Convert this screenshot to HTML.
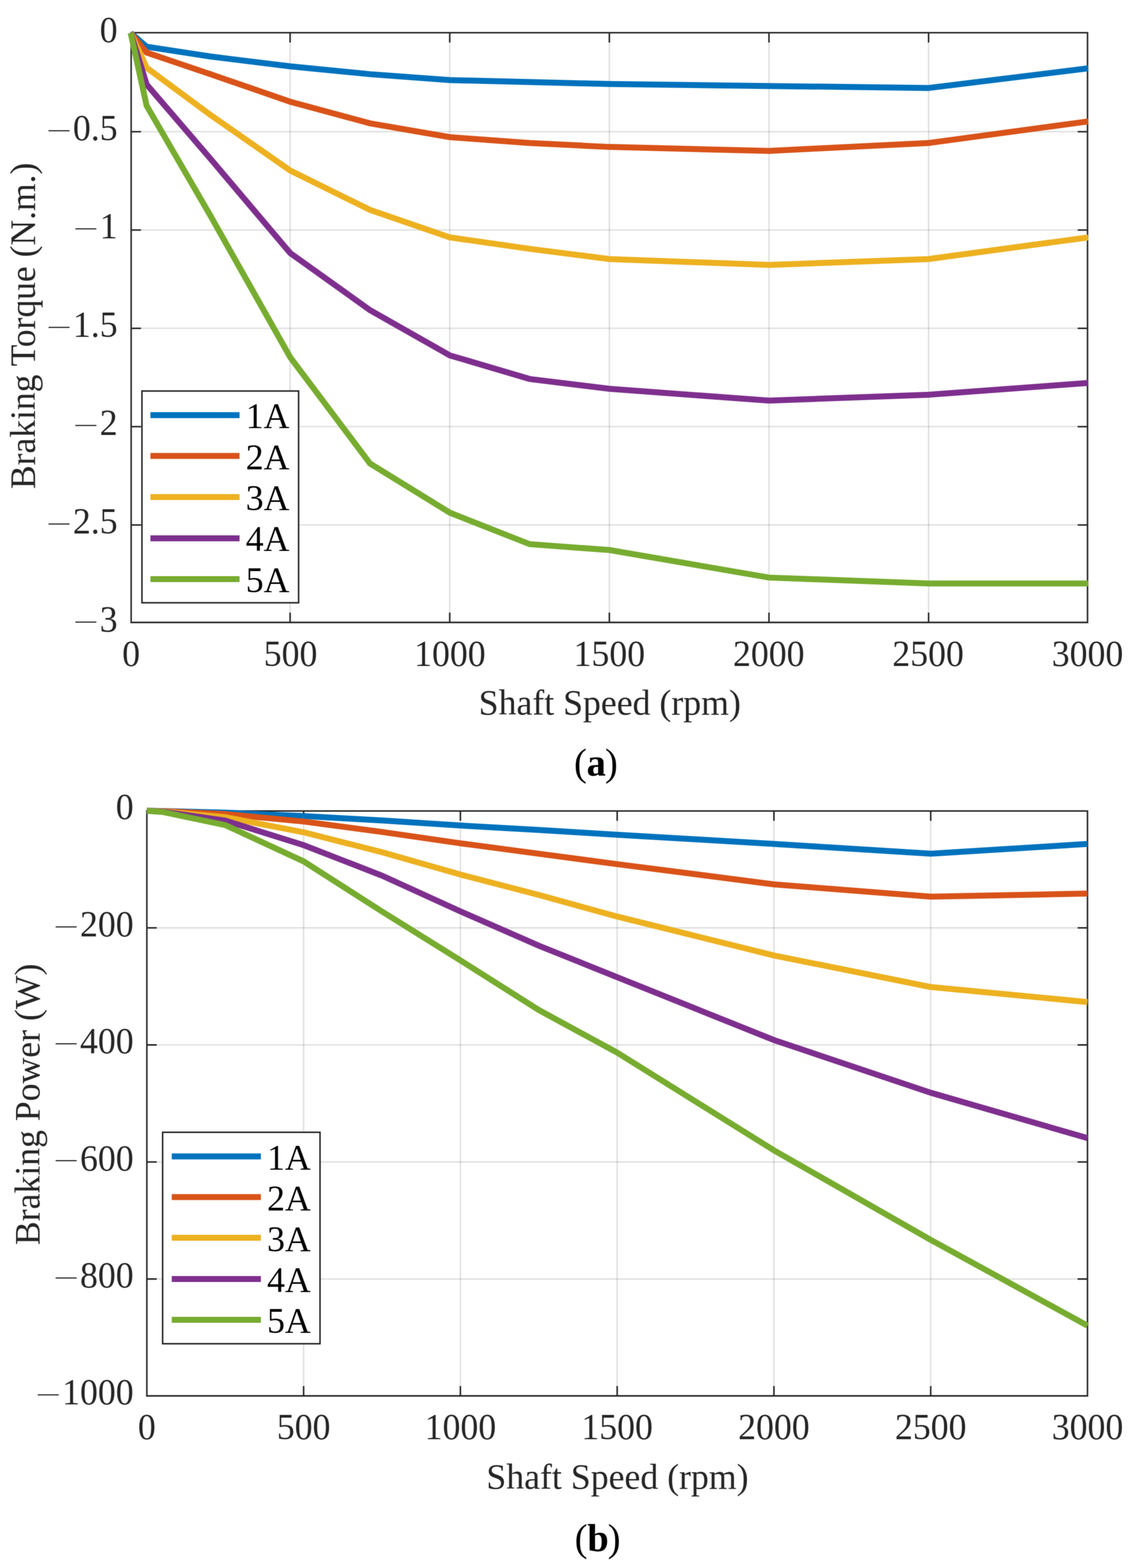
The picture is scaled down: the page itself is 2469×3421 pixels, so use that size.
<!DOCTYPE html>
<html lang="en">
<head>
<meta charset="utf-8">
<title>Braking torque and braking power versus shaft speed</title>
<style>
html,body{margin:0;padding:0;background:#fff}
body{width:2469px;height:3421px;overflow:hidden}
svg{display:block}
svg text{font-family:'Liberation Serif', serif;white-space:pre}
</style>
</head>
<body>
<svg width="2469" height="3421" viewBox="0 0 2469 3421">
<defs><filter id="soft" filterUnits="userSpaceOnUse" x="0" y="0" width="2469" height="3421" color-interpolation-filters="sRGB"><feConvolveMatrix order="3" kernelMatrix="0.04 0.12 0.04 0.12 0.36 0.12 0.04 0.12 0.04" edgeMode="duplicate" preserveAlpha="true"/></filter></defs>
<g id="fig" filter="url(#soft)">
<rect width="2469" height="3421" fill="#fff"/>
<g id="plot-a">
<path d="M632.75 71.3V1358M980.9 71.3V1358M1329.05 71.3V1358M1677.2 71.3V1358M2025.35 71.3V1358" stroke="#262626" stroke-opacity="0.15" stroke-width="3.1" fill="none"/>
<path d="M286.05 287.3H2372M286.05 501.8H2372M286.05 716.3H2372M286.05 930.8H2372M286.05 1145.3H2372" stroke="#262626" stroke-opacity="0.15" stroke-width="3.1" fill="none"/>
<path d="M286.05 71.3H2372V1358H286.05ZM632.75 1358v-21.5M632.75 71.3v21.5M980.9 1358v-21.5M980.9 71.3v21.5M1329.05 1358v-21.5M1329.05 71.3v21.5M1677.2 1358v-21.5M1677.2 71.3v21.5M2025.35 1358v-21.5M2025.35 71.3v21.5M286.05 287.3h21.5M2372 287.3h-21.5M286.05 501.8h21.5M2372 501.8h-21.5M286.05 716.3h21.5M2372 716.3h-21.5M286.05 930.8h21.5M2372 930.8h-21.5M286.05 1145.3h21.5M2372 1145.3h-21.5" stroke="#262626" stroke-width="3.3" fill="none" stroke-linejoin="miter"/>
<polyline points="285,71.8 319.81,101.83 459.04,123.28 633.08,144.73 807.12,161.89 981.17,174.76 1155.21,179.05 1329.25,183.34 1677.33,187.63 2025.42,191.92 2373.5,149.02" stroke="#0072BD" stroke-width="13.0" fill="none" stroke-linejoin="miter" stroke-miterlimit="10" stroke-linecap="butt"/>
<polyline points="285,71.8 319.81,114.7 459.04,161.89 633.08,221.95 807.12,269.14 981.17,299.17 1155.21,312.04 1329.25,320.62 1677.33,329.2 2025.42,312.04 2373.5,264.85" stroke="#D95319" stroke-width="13.0" fill="none" stroke-linejoin="miter" stroke-miterlimit="10" stroke-linecap="butt"/>
<polyline points="285,71.8 319.81,147.73 459.04,250.69 633.08,372.1 807.12,457.9 981.17,517.96 1155.21,542.84 1329.25,565.15 1677.33,578.02 2025.42,565.15 2373.5,517.96" stroke="#EDB120" stroke-width="13.0" fill="none" stroke-linejoin="miter" stroke-miterlimit="10" stroke-linecap="butt"/>
<polyline points="285,71.8 319.81,184.2 459.04,346.36 633.08,552.28 807.12,676.69 981.17,775.36 1155.21,826.84 1329.25,848.29 1677.33,874.03 2025.42,861.16 2373.5,835.42" stroke="#7E2F8E" stroke-width="13.0" fill="none" stroke-linejoin="miter" stroke-miterlimit="10" stroke-linecap="butt"/>
<polyline points="285,71.8 319.81,230.53 459.04,470.77 633.08,779.65 807.12,1011.31 981.17,1118.56 1155.21,1187.2 1329.25,1200.07 1677.33,1260.13 2025.42,1273 2373.5,1273" stroke="#77AC30" stroke-width="13.0" fill="none" stroke-linejoin="miter" stroke-miterlimit="10" stroke-linecap="butt"/>
<rect x="309.6" y="853.1" width="341.7" height="462" fill="#fff" stroke="#262626" stroke-width="3.3"/>
<line x1="328.1" x2="522.5" y1="905.8" y2="905.8" stroke="#0072BD" stroke-width="13.0"/>
<text x="536" y="933.1" font-size="78" fill="#000">1A</text>
<line x1="328.1" x2="522.5" y1="994.8" y2="994.8" stroke="#D95319" stroke-width="13.0"/>
<text x="536" y="1022.6" font-size="78" fill="#000">2A</text>
<line x1="328.1" x2="522.5" y1="1084.6" y2="1084.6" stroke="#EDB120" stroke-width="13.0"/>
<text x="536" y="1112" font-size="78" fill="#000">3A</text>
<line x1="328.1" x2="522.5" y1="1174.4" y2="1174.4" stroke="#7E2F8E" stroke-width="13.0"/>
<text x="536" y="1201" font-size="78" fill="#000">4A</text>
<line x1="328.1" x2="522.5" y1="1263.5" y2="1263.5" stroke="#77AC30" stroke-width="13.0"/>
<text x="536" y="1290.5" font-size="78" fill="#000">5A</text>
<text transform="translate(286 1452.7) scale(0.98 1)" font-size="79.6" text-anchor="middle" fill="#262626">0</text>
<text transform="translate(633.67 1452.7) scale(0.98 1)" font-size="79.6" text-anchor="middle" fill="#262626">500</text>
<text transform="translate(981.33 1452.7) scale(0.98 1)" font-size="79.6" text-anchor="middle" fill="#262626">1000</text>
<text transform="translate(1329 1452.7) scale(0.98 1)" font-size="79.6" text-anchor="middle" fill="#262626">1500</text>
<text transform="translate(1676.67 1452.7) scale(0.98 1)" font-size="79.6" text-anchor="middle" fill="#262626">2000</text>
<text transform="translate(2024.33 1452.7) scale(0.98 1)" font-size="79.6" text-anchor="middle" fill="#262626">2500</text>
<text transform="translate(2372 1452.7) scale(0.98 1)" font-size="79.6" text-anchor="middle" fill="#262626">3000</text>
<text transform="translate(256.5 91.8) scale(0.98 1)" font-size="79.6" text-anchor="end" fill="#262626">0</text>
<text transform="translate(256.5 305.6) scale(0.98 1)" font-size="79.6" text-anchor="end" fill="#262626"><tspan font-size="47" textLength="56.63" lengthAdjust="spacingAndGlyphs" dy="-5.1">−</tspan><tspan dx="2.3" dy="5.1">0.5</tspan></text>
<text transform="translate(256.5 520.1) scale(0.98 1)" font-size="79.6" text-anchor="end" fill="#262626"><tspan font-size="47" textLength="56.63" lengthAdjust="spacingAndGlyphs" dy="-5.1">−</tspan><tspan dx="2.3" dy="5.1">1</tspan></text>
<text transform="translate(256.5 734.6) scale(0.98 1)" font-size="79.6" text-anchor="end" fill="#262626"><tspan font-size="47" textLength="56.63" lengthAdjust="spacingAndGlyphs" dy="-5.1">−</tspan><tspan dx="2.3" dy="5.1">1.5</tspan></text>
<text transform="translate(256.5 949.1) scale(0.98 1)" font-size="79.6" text-anchor="end" fill="#262626"><tspan font-size="47" textLength="56.63" lengthAdjust="spacingAndGlyphs" dy="-5.1">−</tspan><tspan dx="2.3" dy="5.1">2</tspan></text>
<text transform="translate(256.5 1163.6) scale(0.98 1)" font-size="79.6" text-anchor="end" fill="#262626"><tspan font-size="47" textLength="56.63" lengthAdjust="spacingAndGlyphs" dy="-5.1">−</tspan><tspan dx="2.3" dy="5.1">2.5</tspan></text>
<text transform="translate(256.5 1378.1) scale(0.98 1)" font-size="79.6" text-anchor="end" fill="#262626"><tspan font-size="47" textLength="56.63" lengthAdjust="spacingAndGlyphs" dy="-5.1">−</tspan><tspan dx="2.3" dy="5.1">3</tspan></text>
<text x="1330" y="1558.5" font-size="78" text-anchor="middle" fill="#262626">Shaft Speed (rpm)</text>
<text transform="translate(75.7 711) rotate(-90)" font-size="78" text-anchor="middle" textLength="712" lengthAdjust="spacingAndGlyphs" fill="#262626">Braking Torque (N.m.)</text>
<text x="1299.7" y="1692.4" font-size="84" text-anchor="middle" fill="#000">(<tspan font-weight="bold" dx="-0.5">a</tspan><tspan dx="-2">)</tspan></text>
</g>
<g id="plot-b">
<path d="M662.23 1769.3V3045.5M1004.17 1769.3V3045.5M1346.1 1769.3V3045.5M1688.03 1769.3V3045.5M2029.97 1769.3V3045.5" stroke="#262626" stroke-opacity="0.15" stroke-width="3.1" fill="none"/>
<path d="M320.3 2024.38H2371.9M320.3 2279.76H2371.9M320.3 2535.14H2371.9M320.3 2790.52H2371.9" stroke="#262626" stroke-opacity="0.15" stroke-width="3.1" fill="none"/>
<path d="M320.3 1769.3H2371.9V3045.5H320.3ZM662.23 3045.5v-21.5M662.23 1769.3v21.5M1004.17 3045.5v-21.5M1004.17 1769.3v21.5M1346.1 3045.5v-21.5M1346.1 1769.3v21.5M1688.03 3045.5v-21.5M1688.03 1769.3v21.5M2029.97 3045.5v-21.5M2029.97 1769.3v21.5M320.3 2024.38h21.5M2371.9 2024.38h-21.5M320.3 2279.76h21.5M2371.9 2279.76h-21.5M320.3 2535.14h21.5M2371.9 2535.14h-21.5M320.3 2790.52h21.5M2371.9 2790.52h-21.5" stroke="#262626" stroke-width="3.3" fill="none" stroke-linejoin="miter"/>
<polyline points="320.3,1769 354.49,1769.47 491.27,1773.01 662.23,1780.37 833.2,1790.06 1004.17,1801.09 1175.13,1810.79 1346.1,1821.15 1688.03,1841.21 2029.97,1862.6 2371.9,1841.21" stroke="#0072BD" stroke-width="13.0" fill="none" stroke-linejoin="miter" stroke-miterlimit="10" stroke-linecap="butt"/>
<polyline points="320.3,1769 354.49,1769.67 491.27,1776.02 662.23,1792.4 833.2,1815.13 1004.17,1839.87 1175.13,1862.6 1346.1,1885.33 1688.03,1929.46 2029.97,1956.2 2371.9,1949.52" stroke="#D95319" stroke-width="13.0" fill="none" stroke-linejoin="miter" stroke-miterlimit="10" stroke-linecap="butt"/>
<polyline points="320.3,1769 354.49,1770.18 491.27,1782.94 662.23,1815.8 833.2,1859.26 1004.17,1908.07 1175.13,1952.53 1346.1,1999.66 1688.03,2084.57 2029.97,2153.44 2371.9,2186.2" stroke="#EDB120" stroke-width="13.0" fill="none" stroke-linejoin="miter" stroke-miterlimit="10" stroke-linecap="butt"/>
<polyline points="320.3,1769 354.49,1770.75 491.27,1790.39 662.23,1843.88 833.2,1910.41 1004.17,1988.3 1175.13,2063.18 1346.1,2132.04 1688.03,2269.1 2029.97,2384.1 2371.9,2483.05" stroke="#7E2F8E" stroke-width="13.0" fill="none" stroke-linejoin="miter" stroke-miterlimit="10" stroke-linecap="butt"/>
<polyline points="320.3,1769 354.49,1771.47 491.27,1800.09 662.23,1879.32 833.2,1988.63 1004.17,2095.27 1175.13,2203.58 1346.1,2296.51 1688.03,2509.79 2029.97,2705.02 2371.9,2892.22" stroke="#77AC30" stroke-width="13.0" fill="none" stroke-linejoin="miter" stroke-miterlimit="10" stroke-linecap="butt"/>
<rect x="354.7" y="2470.4" width="343.3" height="461.3" fill="#fff" stroke="#262626" stroke-width="3.3"/>
<line x1="374.6" x2="569" y1="2523.1" y2="2523.1" stroke="#0072BD" stroke-width="13.0"/>
<text x="582.5" y="2550.6" font-size="78" fill="#000">1A</text>
<line x1="374.6" x2="569" y1="2611.7" y2="2611.7" stroke="#D95319" stroke-width="13.0"/>
<text x="582.5" y="2640.1" font-size="78" fill="#000">2A</text>
<line x1="374.6" x2="569" y1="2700.5" y2="2700.5" stroke="#EDB120" stroke-width="13.0"/>
<text x="582.5" y="2728.7" font-size="78" fill="#000">3A</text>
<line x1="374.6" x2="569" y1="2790.4" y2="2790.4" stroke="#7E2F8E" stroke-width="13.0"/>
<text x="582.5" y="2817.5" font-size="78" fill="#000">4A</text>
<line x1="374.6" x2="569" y1="2879.5" y2="2879.5" stroke="#77AC30" stroke-width="13.0"/>
<text x="582.5" y="2907.3" font-size="78" fill="#000">5A</text>
<text transform="translate(320.3 3139.8) scale(0.98 1)" font-size="79.6" text-anchor="middle" fill="#262626">0</text>
<text transform="translate(662.23 3139.8) scale(0.98 1)" font-size="79.6" text-anchor="middle" fill="#262626">500</text>
<text transform="translate(1004.17 3139.8) scale(0.98 1)" font-size="79.6" text-anchor="middle" fill="#262626">1000</text>
<text transform="translate(1346.1 3139.8) scale(0.98 1)" font-size="79.6" text-anchor="middle" fill="#262626">1500</text>
<text transform="translate(1688.03 3139.8) scale(0.98 1)" font-size="79.6" text-anchor="middle" fill="#262626">2000</text>
<text transform="translate(2029.97 3139.8) scale(0.98 1)" font-size="79.6" text-anchor="middle" fill="#262626">2500</text>
<text transform="translate(2371.9 3139.8) scale(0.98 1)" font-size="79.6" text-anchor="middle" fill="#262626">3000</text>
<text transform="translate(291.4 1787.3) scale(0.98 1)" font-size="79.6" text-anchor="end" fill="#262626">0</text>
<text transform="translate(291.4 2042.78) scale(0.98 1)" font-size="79.6" text-anchor="end" fill="#262626"><tspan font-size="47" textLength="56.63" lengthAdjust="spacingAndGlyphs" dy="-5.1">−</tspan><tspan dx="2.3" dy="5.1">200</tspan></text>
<text transform="translate(291.4 2298.16) scale(0.98 1)" font-size="79.6" text-anchor="end" fill="#262626"><tspan font-size="47" textLength="56.63" lengthAdjust="spacingAndGlyphs" dy="-5.1">−</tspan><tspan dx="2.3" dy="5.1">400</tspan></text>
<text transform="translate(291.4 2553.54) scale(0.98 1)" font-size="79.6" text-anchor="end" fill="#262626"><tspan font-size="47" textLength="56.63" lengthAdjust="spacingAndGlyphs" dy="-5.1">−</tspan><tspan dx="2.3" dy="5.1">600</tspan></text>
<text transform="translate(291.4 2808.92) scale(0.98 1)" font-size="79.6" text-anchor="end" fill="#262626"><tspan font-size="47" textLength="56.63" lengthAdjust="spacingAndGlyphs" dy="-5.1">−</tspan><tspan dx="2.3" dy="5.1">800</tspan></text>
<text transform="translate(291.4 3064.3) scale(0.98 1)" font-size="79.6" text-anchor="end" fill="#262626"><tspan font-size="47" textLength="56.63" lengthAdjust="spacingAndGlyphs" dy="-5.1">−</tspan><tspan dx="2.3" dy="5.1">1000</tspan></text>
<text x="1346.8" y="3247.5" font-size="78" text-anchor="middle" fill="#262626">Shaft Speed (rpm)</text>
<text transform="translate(86.35 2409.4) rotate(-90)" font-size="78" text-anchor="middle" textLength="614.2" lengthAdjust="spacingAndGlyphs" fill="#262626">Braking Power (W)</text>
<text x="1303.5" y="3384.3" font-size="84" text-anchor="middle" fill="#000">(<tspan font-weight="bold" dx="-0.5">b</tspan><tspan dx="-2">)</tspan></text>
</g>
</g>
</svg>
</body>
</html>
